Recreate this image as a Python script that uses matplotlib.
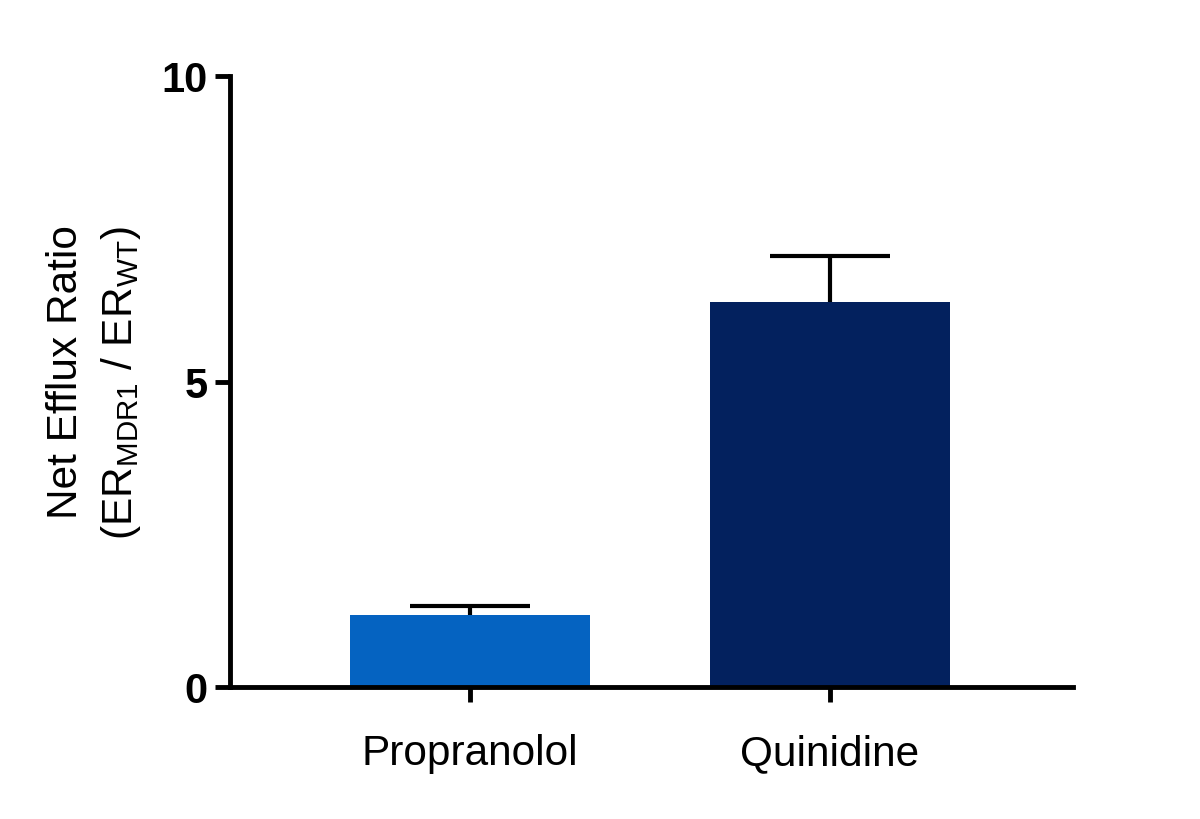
import matplotlib
matplotlib.use("Agg")
import matplotlib.pyplot as plt

categories = ["Propranolol", "Quinidine"]
values = [1.18, 6.30]
errors = [0.15, 0.75]
colors = ["#0563C1", "#03215E"]
yticks = [0, 5, 10]
ylabel_lines = ["Net Efflux Ratio",
                "(ER$_{\\mathregular{MDR1}}$ / ER$_{\\mathregular{WT}}$)"]

plt.rcParams['font.family'] = ['Liberation Sans', 'DejaVu Sans']
plt.rcParams['mathtext.fontset'] = 'custom'
plt.rcParams['mathtext.rm'] = 'Liberation Sans'

fig = plt.figure(figsize=(12, 8.2), dpi=100)
ax = fig.add_axes([230/1200, 1-688/820, (1073-230)/1200, (688-77)/820])

x = list(range(len(categories)))
ax.errorbar(x, values, yerr=errors, fmt='none', ecolor='black',
            elinewidth=3.0, capsize=43, capthick=3.0, zorder=1)
ax.bar(x, values, width=0.667, color=colors, zorder=2)

ax.set_xlim(-0.667, (1073-470)/360)
ax.set_ylim(0, 10)
ax.set_yticks(yticks)
ax.set_xticks(x)
ax.set_xticklabels(categories, fontsize=30.5)
for lab in ax.get_yticklabels():
    lab.set_fontweight('bold')
    lab.set_fontsize(30)

for s in ['top', 'right']:
    ax.spines[s].set_visible(False)
for s in ['left', 'bottom']:
    ax.spines[s].set_linewidth(3.5)
ax.spines['left'].set_bounds(0, 10)
ax.tick_params(axis='both', width=3.5, length=11)
ax.tick_params(axis='x', pad=22)
ax.tick_params(axis='y', pad=5)

fig.text(77/1200, 1-372/820, ylabel_lines[0], rotation=90, rotation_mode='anchor',
         ha='center', va='baseline', fontsize=30.5)
fig.text(132/1200, 1-383/820, ylabel_lines[1], rotation=90, rotation_mode='anchor',
         ha='center', va='baseline', fontsize=30.5)

fig.savefig("out.png", dpi=100, facecolor='white')
